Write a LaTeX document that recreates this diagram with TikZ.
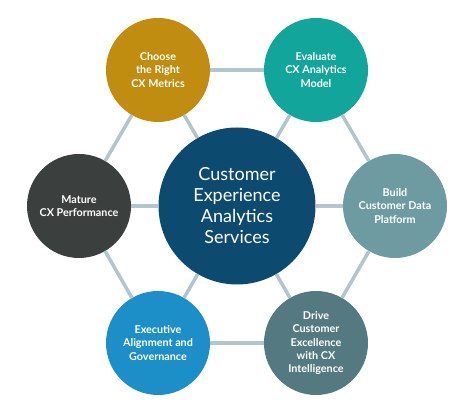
\documentclass[tikz,border=0pt]{standalone}
\usepackage{fontspec}
\setmainfont{Lato}
\definecolor{linkc}{HTML}{B2C5CC}
\definecolor{goldc}{HTML}{C08D10}
\definecolor{tealc}{HTML}{12A59B}
\definecolor{greyteal}{HTML}{6D9BA1}
\definecolor{slatec}{HTML}{547980}
\definecolor{bluec}{HTML}{1C8FC8}
\definecolor{darkc}{HTML}{3B403E}
\definecolor{navyc}{HTML}{0D4A6F}
\begin{document}
\begin{tikzpicture}[x=1pt,y=1pt,
  outer/.style={circle,draw=none,minimum size=104pt,inner sep=0pt,text=white,align=center,
    font=\fontsize{10.8}{13.2}\selectfont\bfseries},
  hub/.style={circle,draw=none,fill=navyc,minimum size=157pt,inner sep=0pt,text=white,align=center,
    font=\fontsize{18}{21}\selectfont},
  link/.style={draw=linkc,line width=3.5pt}]
\useasboundingbox (0,0) rectangle (474,412);
\fill[white] (0,0) rectangle (474,412);
\node[hub] (c) at (237,206) {Customer\\Experience\\Analytics\\Services};
\node[outer,fill=goldc] (tl) at (158,342) {Choose\\the Right\\CX Metrics};
\node[outer,fill=tealc] (tr) at (316,342) {Evaluate\\CX Analytics\\Model};
\node[outer,fill=greyteal] (r) at (395,206) {Build\\Customer Data\\Platform};
\node[outer,fill=slatec] (br) at (316,69) {Drive\\Customer\\Excellence\\with CX\\Intelligence};
\node[outer,fill=bluec] (bl) at (158,69) {Executive\\Alignment and\\Governance};
\node[outer,fill=darkc] (l) at (79,206) {Mature\\CX Performance};
\draw[link] (tl) -- (tr);
\draw[link] (tr) -- (r);
\draw[link] (r) -- (br);
\draw[link] (br) -- (bl);
\draw[link] (bl) -- (l);
\draw[link] (l) -- (tl);
\draw[link] (c) -- (tl);
\draw[link] (c) -- (tr);
\draw[link] (c) -- (r);
\draw[link] (c) -- (br);
\draw[link] (c) -- (bl);
\draw[link] (c) -- (l);
\end{tikzpicture}
\end{document}
